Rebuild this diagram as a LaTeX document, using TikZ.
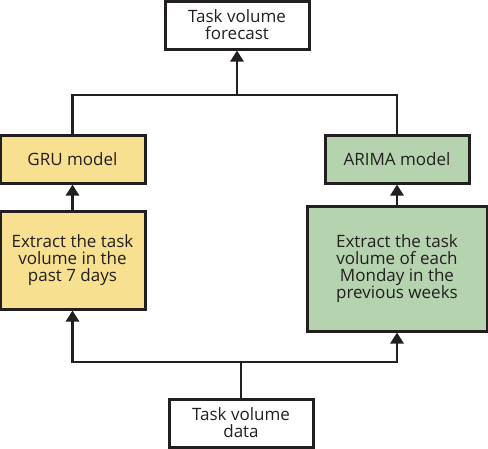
\documentclass[tikz,border=0pt]{standalone}
\usepackage{fontspec}
\setmainfont{Open Sans}
\usetikzlibrary{positioning, arrows.meta}
\definecolor{boxline}{HTML}{231F20}
\definecolor{gruyellow}{HTML}{F7E08F}
\definecolor{arimagreen}{HTML}{B5D3AF}
\begin{document}
\begin{tikzpicture}[x=1pt, y=-1pt, >={Triangle[width=13pt,length=11pt]}, node distance=100pt, on grid,
    block/.style={draw=boxline, text=boxline, line width=3pt, align=center, font=\fontsize{17}{17}\selectfont, inner sep=0pt},
    link/.style={draw=boxline, line width=2.7pt}]
    \useasboundingbox (0,0) rectangle (488,448);
			\node[block, minimum width=144pt, minimum height=48pt]                        (fc)    at (237,25)               {Task volume\\forecast};
			\node[block, fill=gruyellow, minimum width=145pt, minimum height=48pt]       (gru)   [below left=134pt and 164.5pt of fc]  {GRU model};
			\node[block, fill=arimagreen, minimum width=144pt, minimum height=48pt]      (arima) [below right=134pt and 160pt of fc]   {ARIMA model};
			\node[block, fill=gruyellow, minimum width=145pt, minimum height=98pt]       (exl)   [below=101pt of gru]      {Extract the task\\volume in the\\past 7 days};
			\node[block, fill=arimagreen, minimum width=180pt, minimum height=125pt]     (exr)   [below=109.5pt of arima]  {Extract the task\\volume of each\\Monday in the\\previous weeks};
			\node[block, minimum width=144pt, minimum height=48pt]                        (data)  [below right=398pt and 4pt of fc] {Task volume\\data};
			\coordinate[below=70pt of fc] (top);
			\coordinate[above=61pt of data] (bot);

			%Ligações: modelos -> previsão
			\draw[link] (gru.north) |- (top);
			\draw[link] (arima.north) |- (top);
			\draw[link, ->] (top) -- (fc.south);
			\draw[link, ->] (exl.north) -- (gru.south);
			\draw[link, ->] (exr.north) -- (arima.south);

			%Ligações: dados -> extração
			\draw[link] (data.north) -- (bot);
			\draw[link, ->] (bot) -| (exl.south);
			\draw[link, ->] (bot) -| (exr.south);
		\end{tikzpicture}
\end{document}
